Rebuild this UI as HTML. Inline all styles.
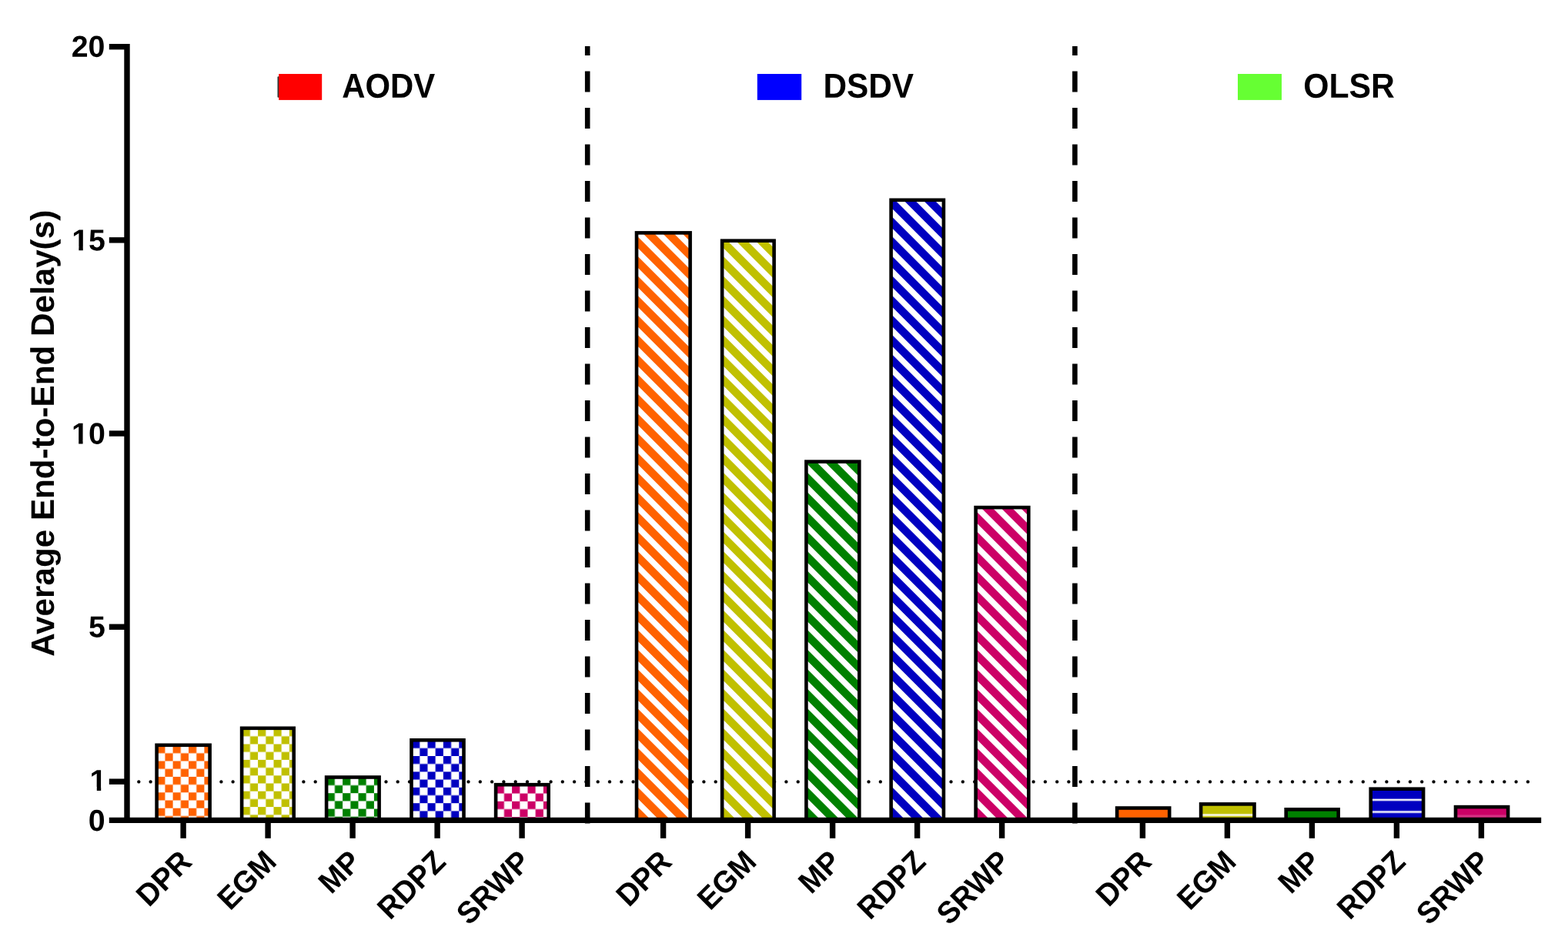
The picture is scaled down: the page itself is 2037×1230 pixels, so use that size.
<!DOCTYPE html>
<html lang="en"><head><meta charset="utf-8"><title>Average End-to-End Delay</title>
<style>
html,body{margin:0;padding:0;background:#fff;}
body{width:2037px;height:1230px;overflow:hidden;}
svg{display:block;}
text{font-family:"Liberation Sans",sans-serif;font-weight:bold;fill:#000;text-rendering:geometricPrecision;}
.tl{font-size:38.6px;}
.lg{font-size:42.5px;}
.yl{font-size:42.5px;}
.xl{font-size:38.7px;}
</style></head><body>
<svg width="2037" height="1230" viewBox="0 0 2037 1230" role="img" aria-label="Average End-to-End Delay(s) bar chart for AODV, DSDV and OLSR">
<rect x="0" y="0" width="2037" height="1230" fill="#fff"/>
<defs>
<pattern id="p1" patternUnits="userSpaceOnUse" width="20.40" height="20.40" patternTransform="translate(204.20 968.10)"><rect width="20.40" height="20.40" fill="#fff"/><rect x="0" y="0" width="10.20" height="10.20" fill="#ff6200"/><rect x="10.20" y="10.20" width="10.20" height="10.20" fill="#ff6200"/></pattern>
<pattern id="p2" patternUnits="userSpaceOnUse" width="20.40" height="20.40" patternTransform="translate(314.70 946.10)"><rect width="20.40" height="20.40" fill="#fff"/><rect x="0" y="0" width="10.20" height="10.20" fill="#c0c000"/><rect x="10.20" y="10.20" width="10.20" height="10.20" fill="#c0c000"/></pattern>
<pattern id="p3" patternUnits="userSpaceOnUse" width="20.40" height="20.40" patternTransform="translate(424.70 1009.80)"><rect width="20.40" height="20.40" fill="#fff"/><rect x="0" y="0" width="10.20" height="10.20" fill="#008000"/><rect x="10.20" y="10.20" width="10.20" height="10.20" fill="#008000"/></pattern>
<pattern id="p4" patternUnits="userSpaceOnUse" width="20.40" height="20.40" patternTransform="translate(535.10 961.60)"><rect width="20.40" height="20.40" fill="#fff"/><rect x="0" y="0" width="10.20" height="10.20" fill="#0000c0"/><rect x="10.20" y="10.20" width="10.20" height="10.20" fill="#0000c0"/></pattern>
<pattern id="p5" patternUnits="userSpaceOnUse" width="20.40" height="20.40" patternTransform="translate(644.70 1020.40)"><rect width="20.40" height="20.40" fill="#fff"/><rect x="0" y="0" width="10.20" height="10.20" fill="#cc0066"/><rect x="10.20" y="10.20" width="10.20" height="10.20" fill="#cc0066"/></pattern>
<pattern id="p6" patternUnits="userSpaceOnUse" width="18.060" height="20" patternTransform="translate(827.50 1061.70) rotate(-45)"><rect width="18.060" height="20" fill="#fff"/><rect x="0" y="0" width="10.394" height="20" fill="#ff6200"/></pattern>
<pattern id="p7" patternUnits="userSpaceOnUse" width="18.060" height="20" patternTransform="translate(938.60 1061.70) rotate(-45)"><rect width="18.060" height="20" fill="#fff"/><rect x="0" y="0" width="10.394" height="20" fill="#c0c000"/></pattern>
<pattern id="p8" patternUnits="userSpaceOnUse" width="18.060" height="20" patternTransform="translate(1047.90 1061.70) rotate(-45)"><rect width="18.060" height="20" fill="#fff"/><rect x="0" y="0" width="10.394" height="20" fill="#008000"/></pattern>
<pattern id="p9" patternUnits="userSpaceOnUse" width="18.060" height="20" patternTransform="translate(1158.10 1061.70) rotate(-45)"><rect width="18.060" height="20" fill="#fff"/><rect x="0" y="0" width="10.394" height="20" fill="#0000c0"/></pattern>
<pattern id="p10" patternUnits="userSpaceOnUse" width="18.060" height="20" patternTransform="translate(1268.10 1061.70) rotate(-45)"><rect width="18.060" height="20" fill="#fff"/><rect x="0" y="0" width="10.394" height="20" fill="#cc0066"/></pattern>
<pattern id="p11" patternUnits="userSpaceOnUse" width="20" height="15.70" patternTransform="translate(1453.40 1051.80)"><rect width="20" height="15.70" fill="#ff6200"/><rect x="0" y="10.6" width="20" height="2.1" fill="#fff"/><rect x="0" y="12.7" width="20" height="1.0" fill="#fff" opacity="0.45"/></pattern>
<pattern id="p12" patternUnits="userSpaceOnUse" width="20" height="15.70" patternTransform="translate(1562.40 1046.70)"><rect width="20" height="15.70" fill="#c0c000"/><rect x="0" y="10.6" width="20" height="2.1" fill="#fff"/><rect x="0" y="12.7" width="20" height="1.0" fill="#fff" opacity="0.45"/></pattern>
<pattern id="p13" patternUnits="userSpaceOnUse" width="20" height="15.70" patternTransform="translate(1673.00 1053.60)"><rect width="20" height="15.70" fill="#008000"/><rect x="0" y="10.6" width="20" height="2.1" fill="#fff"/><rect x="0" y="12.7" width="20" height="1.0" fill="#fff" opacity="0.45"/></pattern>
<pattern id="p14" patternUnits="userSpaceOnUse" width="20" height="15.70" patternTransform="translate(1783.00 1027.00)"><rect width="20" height="15.70" fill="#0000c0"/><rect x="0" y="10.6" width="20" height="2.1" fill="#fff"/><rect x="0" y="12.7" width="20" height="1.0" fill="#fff" opacity="0.45"/></pattern>
<pattern id="p15" patternUnits="userSpaceOnUse" width="20" height="15.70" patternTransform="translate(1893.30 1050.40)"><rect width="20" height="15.70" fill="#cc0066"/><rect x="0" y="8.1" width="20" height="3.2" fill="#fff" opacity="0.2"/></pattern>
</defs>
<g fill="#000">
<circle cx="180.3" cy="1015.4" r="2.15"/>
<circle cx="195.6" cy="1015.4" r="2.15"/>
<circle cx="210.9" cy="1015.4" r="2.15"/>
<circle cx="226.2" cy="1015.4" r="2.15"/>
<circle cx="241.5" cy="1015.4" r="2.15"/>
<circle cx="256.8" cy="1015.4" r="2.15"/>
<circle cx="272.1" cy="1015.4" r="2.15"/>
<circle cx="287.4" cy="1015.4" r="2.15"/>
<circle cx="302.6" cy="1015.4" r="2.15"/>
<circle cx="317.9" cy="1015.4" r="2.15"/>
<circle cx="333.2" cy="1015.4" r="2.15"/>
<circle cx="348.5" cy="1015.4" r="2.15"/>
<circle cx="363.8" cy="1015.4" r="2.15"/>
<circle cx="379.1" cy="1015.4" r="2.15"/>
<circle cx="394.4" cy="1015.4" r="2.15"/>
<circle cx="409.7" cy="1015.4" r="2.15"/>
<circle cx="425.0" cy="1015.4" r="2.15"/>
<circle cx="440.3" cy="1015.4" r="2.15"/>
<circle cx="455.6" cy="1015.4" r="2.15"/>
<circle cx="470.9" cy="1015.4" r="2.15"/>
<circle cx="486.2" cy="1015.4" r="2.15"/>
<circle cx="501.5" cy="1015.4" r="2.15"/>
<circle cx="516.7" cy="1015.4" r="2.15"/>
<circle cx="532.0" cy="1015.4" r="2.15"/>
<circle cx="547.3" cy="1015.4" r="2.15"/>
<circle cx="562.6" cy="1015.4" r="2.15"/>
<circle cx="577.9" cy="1015.4" r="2.15"/>
<circle cx="593.2" cy="1015.4" r="2.15"/>
<circle cx="608.5" cy="1015.4" r="2.15"/>
<circle cx="623.8" cy="1015.4" r="2.15"/>
<circle cx="639.1" cy="1015.4" r="2.15"/>
<circle cx="654.4" cy="1015.4" r="2.15"/>
<circle cx="669.7" cy="1015.4" r="2.15"/>
<circle cx="685.0" cy="1015.4" r="2.15"/>
<circle cx="700.3" cy="1015.4" r="2.15"/>
<circle cx="715.6" cy="1015.4" r="2.15"/>
<circle cx="730.8" cy="1015.4" r="2.15"/>
<circle cx="746.1" cy="1015.4" r="2.15"/>
<circle cx="761.4" cy="1015.4" r="2.15"/>
<circle cx="776.7" cy="1015.4" r="2.15"/>
<circle cx="792.0" cy="1015.4" r="2.15"/>
<circle cx="807.3" cy="1015.4" r="2.15"/>
<circle cx="822.6" cy="1015.4" r="2.15"/>
<circle cx="837.9" cy="1015.4" r="2.15"/>
<circle cx="853.2" cy="1015.4" r="2.15"/>
<circle cx="868.5" cy="1015.4" r="2.15"/>
<circle cx="883.8" cy="1015.4" r="2.15"/>
<circle cx="899.1" cy="1015.4" r="2.15"/>
<circle cx="914.4" cy="1015.4" r="2.15"/>
<circle cx="929.7" cy="1015.4" r="2.15"/>
<circle cx="945.0" cy="1015.4" r="2.15"/>
<circle cx="960.2" cy="1015.4" r="2.15"/>
<circle cx="975.5" cy="1015.4" r="2.15"/>
<circle cx="990.8" cy="1015.4" r="2.15"/>
<circle cx="1006.1" cy="1015.4" r="2.15"/>
<circle cx="1021.4" cy="1015.4" r="2.15"/>
<circle cx="1036.7" cy="1015.4" r="2.15"/>
<circle cx="1052.0" cy="1015.4" r="2.15"/>
<circle cx="1067.3" cy="1015.4" r="2.15"/>
<circle cx="1082.6" cy="1015.4" r="2.15"/>
<circle cx="1097.9" cy="1015.4" r="2.15"/>
<circle cx="1113.2" cy="1015.4" r="2.15"/>
<circle cx="1128.5" cy="1015.4" r="2.15"/>
<circle cx="1143.8" cy="1015.4" r="2.15"/>
<circle cx="1159.1" cy="1015.4" r="2.15"/>
<circle cx="1174.3" cy="1015.4" r="2.15"/>
<circle cx="1189.6" cy="1015.4" r="2.15"/>
<circle cx="1204.9" cy="1015.4" r="2.15"/>
<circle cx="1220.2" cy="1015.4" r="2.15"/>
<circle cx="1235.5" cy="1015.4" r="2.15"/>
<circle cx="1250.8" cy="1015.4" r="2.15"/>
<circle cx="1266.1" cy="1015.4" r="2.15"/>
<circle cx="1281.4" cy="1015.4" r="2.15"/>
<circle cx="1296.7" cy="1015.4" r="2.15"/>
<circle cx="1312.0" cy="1015.4" r="2.15"/>
<circle cx="1327.3" cy="1015.4" r="2.15"/>
<circle cx="1342.6" cy="1015.4" r="2.15"/>
<circle cx="1357.9" cy="1015.4" r="2.15"/>
<circle cx="1373.2" cy="1015.4" r="2.15"/>
<circle cx="1388.4" cy="1015.4" r="2.15"/>
<circle cx="1403.7" cy="1015.4" r="2.15"/>
<circle cx="1419.0" cy="1015.4" r="2.15"/>
<circle cx="1434.3" cy="1015.4" r="2.15"/>
<circle cx="1449.6" cy="1015.4" r="2.15"/>
<circle cx="1464.9" cy="1015.4" r="2.15"/>
<circle cx="1480.2" cy="1015.4" r="2.15"/>
<circle cx="1495.5" cy="1015.4" r="2.15"/>
<circle cx="1510.8" cy="1015.4" r="2.15"/>
<circle cx="1526.1" cy="1015.4" r="2.15"/>
<circle cx="1541.4" cy="1015.4" r="2.15"/>
<circle cx="1556.7" cy="1015.4" r="2.15"/>
<circle cx="1572.0" cy="1015.4" r="2.15"/>
<circle cx="1587.3" cy="1015.4" r="2.15"/>
<circle cx="1602.5" cy="1015.4" r="2.15"/>
<circle cx="1617.8" cy="1015.4" r="2.15"/>
<circle cx="1633.1" cy="1015.4" r="2.15"/>
<circle cx="1648.4" cy="1015.4" r="2.15"/>
<circle cx="1663.7" cy="1015.4" r="2.15"/>
<circle cx="1679.0" cy="1015.4" r="2.15"/>
<circle cx="1694.3" cy="1015.4" r="2.15"/>
<circle cx="1709.6" cy="1015.4" r="2.15"/>
<circle cx="1724.9" cy="1015.4" r="2.15"/>
<circle cx="1740.2" cy="1015.4" r="2.15"/>
<circle cx="1755.5" cy="1015.4" r="2.15"/>
<circle cx="1770.8" cy="1015.4" r="2.15"/>
<circle cx="1786.1" cy="1015.4" r="2.15"/>
<circle cx="1801.4" cy="1015.4" r="2.15"/>
<circle cx="1816.7" cy="1015.4" r="2.15"/>
<circle cx="1831.9" cy="1015.4" r="2.15"/>
<circle cx="1847.2" cy="1015.4" r="2.15"/>
<circle cx="1862.5" cy="1015.4" r="2.15"/>
<circle cx="1877.8" cy="1015.4" r="2.15"/>
<circle cx="1893.1" cy="1015.4" r="2.15"/>
<circle cx="1908.4" cy="1015.4" r="2.15"/>
<circle cx="1923.7" cy="1015.4" r="2.15"/>
<circle cx="1939.0" cy="1015.4" r="2.15"/>
<circle cx="1954.3" cy="1015.4" r="2.15"/>
<circle cx="1969.6" cy="1015.4" r="2.15"/>
<circle cx="1984.9" cy="1015.4" r="2.15"/>
</g>
<rect x="203.60" y="967.80" width="69.00" height="97.60" fill="url(#p1)" stroke="#000" stroke-width="4.60"/>
<rect x="314.10" y="945.80" width="67.60" height="119.60" fill="url(#p2)" stroke="#000" stroke-width="4.60"/>
<rect x="424.10" y="1009.50" width="68.50" height="55.90" fill="url(#p3)" stroke="#000" stroke-width="4.60"/>
<rect x="534.50" y="961.30" width="68.00" height="104.10" fill="url(#p4)" stroke="#000" stroke-width="4.60"/>
<rect x="644.10" y="1019.20" width="68.60" height="46.20" fill="url(#p5)" stroke="#000" stroke-width="4.60"/>
<rect x="827.00" y="302.40" width="69.60" height="763.00" fill="url(#p6)" stroke="#000" stroke-width="4.60"/>
<rect x="938.10" y="312.70" width="67.50" height="752.70" fill="url(#p7)" stroke="#000" stroke-width="4.60"/>
<rect x="1047.40" y="599.60" width="68.90" height="465.80" fill="url(#p8)" stroke="#000" stroke-width="4.60"/>
<rect x="1157.60" y="259.80" width="68.30" height="805.60" fill="url(#p9)" stroke="#000" stroke-width="4.60"/>
<rect x="1267.60" y="659.10" width="68.70" height="406.30" fill="url(#p10)" stroke="#000" stroke-width="4.60"/>
<rect x="1451.10" y="1049.50" width="68.10" height="15.90" fill="url(#p11)" stroke="#000" stroke-width="4.60"/>
<rect x="1560.10" y="1044.40" width="69.40" height="21.00" fill="url(#p12)" stroke="#000" stroke-width="4.60"/>
<rect x="1670.70" y="1051.30" width="68.00" height="14.10" fill="url(#p13)" stroke="#000" stroke-width="4.60"/>
<rect x="1780.70" y="1024.70" width="68.40" height="40.70" fill="url(#p14)" stroke="#000" stroke-width="4.60"/>
<rect x="1891.00" y="1048.10" width="68.10" height="17.30" fill="url(#p15)" stroke="#000" stroke-width="4.60"/>
<line x1="763.2" y1="1069.4" x2="763.2" y2="60" stroke="#000" stroke-width="6.6" stroke-dasharray="27 20.5"/>
<line x1="1396.4" y1="1069.4" x2="1396.4" y2="60" stroke="#000" stroke-width="6.6" stroke-dasharray="27 20.5"/>
<g stroke="#000" stroke-width="7.4" fill="none">
<line x1="141.8" y1="1065.4" x2="2002.2" y2="1065.4"/>
<line x1="165.0" y1="57.0" x2="165.0" y2="1069.1"/>
<line x1="141.8" y1="1015.17" x2="165.0" y2="1015.17"/>
<line x1="141.8" y1="814.23" x2="165.0" y2="814.23"/>
<line x1="141.8" y1="563.05" x2="165.0" y2="563.05"/>
<line x1="141.8" y1="311.88" x2="165.0" y2="311.88"/>
<line x1="141.8" y1="60.70" x2="165.0" y2="60.70"/>
<line x1="238.10" y1="1065.4" x2="238.10" y2="1088.8"/>
<line x1="348.10" y1="1065.4" x2="348.10" y2="1088.8"/>
<line x1="458.10" y1="1065.4" x2="458.10" y2="1088.8"/>
<line x1="568.10" y1="1065.4" x2="568.10" y2="1088.8"/>
<line x1="678.10" y1="1065.4" x2="678.10" y2="1088.8"/>
<line x1="861.60" y1="1065.4" x2="861.60" y2="1088.8"/>
<line x1="971.60" y1="1065.4" x2="971.60" y2="1088.8"/>
<line x1="1081.60" y1="1065.4" x2="1081.60" y2="1088.8"/>
<line x1="1191.60" y1="1065.4" x2="1191.60" y2="1088.8"/>
<line x1="1301.60" y1="1065.4" x2="1301.60" y2="1088.8"/>
<line x1="1484.40" y1="1065.4" x2="1484.40" y2="1088.8"/>
<line x1="1594.40" y1="1065.4" x2="1594.40" y2="1088.8"/>
<line x1="1704.40" y1="1065.4" x2="1704.40" y2="1088.8"/>
<line x1="1814.40" y1="1065.4" x2="1814.40" y2="1088.8"/>
<line x1="1924.40" y1="1065.4" x2="1924.40" y2="1088.8"/>
</g>
<text class="tl" transform="translate(136.50 73.80) rotate(0.03) scale(1.02 1.012)" text-anchor="end">20</text>
<text class="tl" transform="translate(137.00 325.20) rotate(0.03) scale(1.02 1.012)" text-anchor="end">15</text>
<rect x="93.59" y="320.58" width="8.80" height="7.00" fill="#fff"/>
<rect x="107.80" y="320.58" width="7.90" height="7.00" fill="#fff"/>
<text class="tl" transform="translate(136.80 576.50) rotate(0.03) scale(1.02 1.012)" text-anchor="end">10</text>
<rect x="93.39" y="571.88" width="8.80" height="7.00" fill="#fff"/>
<rect x="107.60" y="571.88" width="7.90" height="7.00" fill="#fff"/>
<text class="tl" transform="translate(137.00 827.50) rotate(0.03) scale(1.02 1.012)" text-anchor="end">5</text>
<text class="tl" transform="translate(138.50 1026.90) rotate(0.03) scale(1.02 1.012)" text-anchor="end">1</text>
<rect x="116.99" y="1022.28" width="8.80" height="7.00" fill="#fff"/>
<rect x="131.19" y="1022.28" width="7.90" height="7.00" fill="#fff"/>
<text class="tl" transform="translate(136.70 1078.90) rotate(0.03) scale(1.02 1.012)" text-anchor="end">0</text>
<text class="xl" transform="translate(251.2 1121.5) rotate(-45) scale(1 1.03)" text-anchor="end">DPR</text>
<text class="xl" transform="translate(361.2 1121.5) rotate(-45) scale(1 1.03)" text-anchor="end">EGM</text>
<text class="xl" transform="translate(471.2 1121.5) rotate(-45) scale(1 1.03)" text-anchor="end">MP</text>
<text class="xl" transform="translate(581.2 1121.5) rotate(-45) scale(1 1.03)" text-anchor="end">RDPZ</text>
<text class="xl" transform="translate(691.2 1121.5) rotate(-45) scale(1 1.03)" text-anchor="end">SRWP</text>
<text class="xl" transform="translate(874.8 1121.5) rotate(-45) scale(1 1.03)" text-anchor="end">DPR</text>
<text class="xl" transform="translate(984.8 1121.5) rotate(-45) scale(1 1.03)" text-anchor="end">EGM</text>
<text class="xl" transform="translate(1094.8 1121.5) rotate(-45) scale(1 1.03)" text-anchor="end">MP</text>
<text class="xl" transform="translate(1204.8 1121.5) rotate(-45) scale(1 1.03)" text-anchor="end">RDPZ</text>
<text class="xl" transform="translate(1314.8 1121.5) rotate(-45) scale(1 1.03)" text-anchor="end">SRWP</text>
<text class="xl" transform="translate(1498.0 1121.5) rotate(-45) scale(1 1.03)" text-anchor="end">DPR</text>
<text class="xl" transform="translate(1608.0 1121.5) rotate(-45) scale(1 1.03)" text-anchor="end">EGM</text>
<text class="xl" transform="translate(1718.0 1121.5) rotate(-45) scale(1 1.03)" text-anchor="end">MP</text>
<text class="xl" transform="translate(1828.0 1121.5) rotate(-45) scale(1 1.03)" text-anchor="end">RDPZ</text>
<text class="xl" transform="translate(1938.0 1121.5) rotate(-45) scale(1 1.03)" text-anchor="end">SRWP</text>
<text class="yl" transform="translate(70.0 562.8) rotate(-90.03) scale(0.993 1.0)" text-anchor="middle">Average End-to-End Delay(s)</text>
<rect x="360.5" y="99.2" width="2.4" height="27.6" rx="1.2" fill="#2b3432"/>
<rect x="362.2" y="96" width="56.0" height="33.9" fill="#ff0000"/>
<text class="lg" transform="translate(444.2 126.7) rotate(0.03) scale(0.985 1.05)">AODV</text>
<rect x="983.8" y="96" width="57.4" height="33.9" fill="#0000ff"/>
<text class="lg" transform="translate(1069.5 126.7) rotate(0.03) scale(0.995 1.05)">DSDV</text>
<rect x="1608.0" y="96" width="57.0" height="33.9" fill="#66ff33"/>
<text class="lg" transform="translate(1693.2 126.7) rotate(0.03) scale(1.005 1.05)">OLSR</text>
</svg>
</body></html>
